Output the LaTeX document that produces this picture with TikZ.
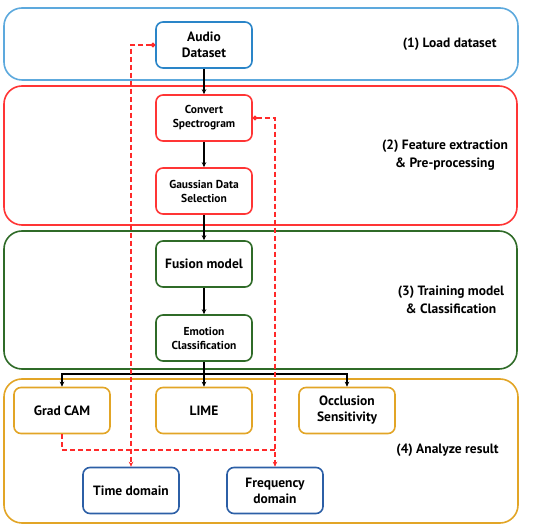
\documentclass[tikz,border=0pt]{standalone}
\usepackage{fontspec}
\setmainfont{PT Sans}
\usepackage{xcolor}
\usepackage{tikz}
\usetikzlibrary{arrows.meta}

\definecolor{loadblue}{HTML}{5DA9DD}
\definecolor{featred}{HTML}{FF3535}
\definecolor{traingreen}{HTML}{2F6B28}
\definecolor{resgold}{HTML}{E2A526}
\definecolor{audioblue}{HTML}{2A85C8}
\definecolor{domblue}{HTML}{2C5FA6}
\definecolor{linkred}{HTML}{FF2A2A}

\tikzset{
	stage/.style={line width=1.6pt, rounded corners=18pt},
	block/.style={draw, line width=1.6pt, rounded corners=7pt, align=center,
		minimum width=96pt, minimum height=46pt, inner sep=2pt,
		font=\bfseries\fontsize{13.5}{16}\selectfont},
	smallblock/.style={block, font=\bfseries\fontsize{11.5}{14}\selectfont},
	label/.style={align=center, font=\bfseries\fontsize{13.5}{18}\selectfont},
	flow/.style={line width=1.2pt, -{Stealth[length=5pt,width=4.5pt]}},
	link/.style={linkred, line width=1.5pt, dash pattern=on 5pt off 3pt},
}

\begin{document}
\begin{tikzpicture}[x=1pt,y=-1pt]
	\useasboundingbox (0,0) rectangle (550,529);
	% Stage frames
	\draw[stage,loadblue] (4,8) rectangle (518,80);
	\draw[stage,featred] (4,86) rectangle (517,225);
	\draw[stage,traingreen] (4,231) rectangle (517,369);
	\draw[stage,resgold] (4,379) rectangle (518,523);
	% Stage labels
	\node[label,anchor=east] (lab1) at (500,44) {(1) Load dataset};
	\node[label] (lab2) at (445,155) {(2) Feature extraction\\\& Pre-processing};
	\node[label] (lab3) at (451,300) {(3) Training model\\\& Classification};
	\node[label,anchor=east] (lab4) at (502,450) {(4) Analyze result};
	% Blocks
	\node[block,audioblue,text=black] (audio) at (204,45) {Audio\\Dataset};
	\node[smallblock,featred,text=black] (convert) at (204,118) {Convert\\Spectrogram};
	\node[smallblock,featred,text=black] (gauss) at (204,191) {Gaussian Data\\Selection};
	\node[block,traingreen,text=black] (fusion) at (204,264) {Fusion model};
	\node[smallblock,traingreen,text=black] (emotion) at (204,338) {Emotion\\Classification};
	\node[block,resgold,text=black] (gradcam) at (62,410.5) {Grad CAM};
	\node[block,resgold,text=black] (lime) at (204,410.5) {LIME};
	\node[block,resgold,text=black] (occl) at (347,410.5) {Occlusion\\Sensitivity};
	\node[block,domblue,text=black] (timedom) at (131,490.5) {Time domain};
	\node[block,domblue,text=black] (freqdom) at (275,490.5) {Frequency\\domain};
	% Main flow
	\draw[flow] (audio) -- (convert);
	\draw[flow] (convert) -- (gauss);
	\draw[flow] (gauss) -- (fusion);
	\draw[flow] (fusion) -- (emotion);
	\coordinate (split) at (204,374);
	\draw[line width=1.2pt] (emotion) -- (split);
	\draw[flow] (split) -| (gradcam);
	\draw[flow] (split) -- (lime);
	\draw[flow] (split) -| (occl);
	% Dashed links
	\draw[link,{Circle[length=4.5pt]}-{Stealth[length=5pt,width=4.5pt]}] (audio.west) -| (timedom);
	\draw[link,{Circle[length=4.5pt]}-{Stealth[length=5pt,width=4.5pt]}] (convert.east) -| (freqdom);
	\coordinate (join) at (275,450);
	\draw[link] (gradcam) |- (join);
\end{tikzpicture}
\end{document}
